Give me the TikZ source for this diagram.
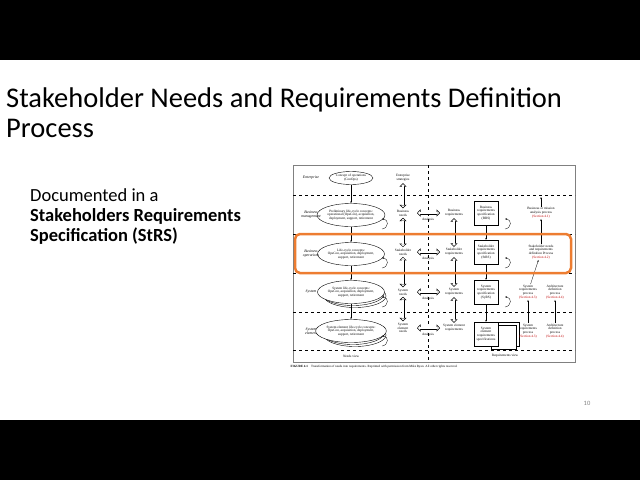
\documentclass[tikz,border=0pt]{standalone}
\usepackage{fontspec}
\setmainfont{Carlito}
\newfontfamily\figfont{Liberation Serif}
\usetikzlibrary{arrows.meta,shapes.geometric}
\definecolor{offorange}{RGB}{237,125,49}
\begin{document}
\begin{tikzpicture}[x=1pt,y=-1pt,
  tiny/.style={font=\figfont\fontsize{3.4}{3.8}\selectfont,align=center,inner sep=0.5pt},
  rowlab/.style={tiny,font=\figfont\itshape\fontsize{3.8}{4.2}\selectfont},
  ell/.style={draw,ellipse,minimum width=62pt,minimum height=23pt,inner sep=0pt,tiny,line width=0.4pt},
  spec/.style={draw,tiny,minimum width=24pt,minimum height=24pt,fill=white,line width=0.4pt},
  dbl/.style={line width=3pt,shorten <=1pt,shorten >=1pt,
    {Triangle[open,fill=white,line width=0.5pt,width=7pt,length=3.5pt]}-{Triangle[open,fill=white,line width=0.5pt,width=7pt,length=3.5pt]},
    postaction={draw,white,line width=2pt,-,shorten <=4pt,shorten >=4pt}},
  sarr/.style={-{Stealth[length=2pt]},line width=0.3pt},
  dashln/.style={dashed,line width=0.3pt}]
\useasboundingbox (0,0) rectangle (640,480);
\fill[black] (0,0) rectangle (640,60);
\fill[black] (0,420) rectangle (640,480);
\node[anchor=west,font=\fontsize{28.5}{30}\selectfont,align=left,inner sep=0] (title) at (6,113)
 {Stakeholder Needs and Requirements Definition\\Process};
\node[anchor=west,font=\fontsize{18.5}{20}\selectfont,align=left,inner sep=0] (doc) at (30,217)
 {Documented in a\\\textbf{Stakeholders Requirements}\\\textbf{Specification (StRS)}};
\node[font=\fontsize{6.5}{7}\selectfont,text=gray] (pg) at (587,403) {10};
% figure frame
\draw[line width=0.3pt,gray] (293,165) rectangle (575,362);
\foreach \yy in {195,234,273,312,350} \draw[dashln] (293,\yy) -- (575,\yy);
\draw[dashln] (428,165) -- (428,362);
\node[tiny] (nv) at (351,356) {Needs view};
\node[tiny] (rv) at (505,356) {Requirements view};
\node[tiny,anchor=west,font=\figfont\fontsize{3.2}{3.6}\selectfont] (cap) at (290,367)
 {\textbf{FIGURE 4.1}\quad Transformation of needs into requirements. Reprinted with permission from Mike Ryan. All other rights reserved.};
% row labels
\node[rowlab] (l1) at (311,178) {Enterprise};
\node[rowlab] (l2) at (311,215) {Business\\management};
\node[rowlab] (l3) at (311,254) {Business\\operations};
\node[rowlab] (l4) at (311,292) {System};
\node[rowlab] (l5) at (311,331) {System\\element};
% ellipses
\node[ell,minimum width=42pt,minimum height=13pt] (e1) at (351,178) {Concept of operations\\(ConOps)};
\node[ell] (e2) at (351,215) {Preliminary life-cycle concepts:\\operational (OpsCon), acquisition,\\deployment, support, retirement};
\node[ell] (e3) at (351,254) {Life-cycle concepts:\\OpsCon, acquisition, deployment,\\support, retirement};
\draw (355,296) ellipse (31pt and 11.5pt);\draw (353,294) ellipse (31pt and 11.5pt);
\node[ell,fill=white] (e4) at (351,292) {System life-cycle concepts:\\OpsCon, acquisition, deployment,\\support, retirement};
\draw (355,335) ellipse (31pt and 11.5pt);\draw (353,333) ellipse (31pt and 11.5pt);
\node[ell,fill=white] (e5) at (351,331) {System element life-cycle concepts:\\OpsCon, acquisition, deployment,\\support, retirement};
\draw[sarr] (e1) -- (e2); \draw[sarr] (e2) -- (e3); \draw[sarr] (e3) -- (e4); \draw[sarr] (e4) -- (e5);
% needs column
\node[tiny] (n1) at (403,178) {Enterprise\\strategies};
\node[tiny] (n2) at (403,213) {Business\\needs};
\node[tiny] (n3) at (403,252) {Stakeholder\\needs};
\node[tiny] (n4) at (403,292) {System\\needs};
\node[tiny] (n5) at (403,328) {System\\element\\needs};
\draw[dbl] (n1) -- (n2); \draw[dbl] (n2) -- (n3); \draw[dbl] (n3) -- (n4); \draw[dbl] (n4) -- (n5);
% requirements column
\node[tiny] (r2) at (454,213) {Business\\requirements};
\node[tiny] (r3) at (454,252) {Stakeholder\\requirements};
\node[tiny] (r4) at (454,292) {System\\requirements};
\node[tiny] (r5) at (454,328) {System element\\requirements};
\draw[dbl] (r2) -- (r3); \draw[dbl] (r3) -- (r4); \draw[dbl] (r4) -- (r5);
\foreach \i/\yy in {2/213,3/252,4/292,5/328}{
  \draw[dbl] (416,\yy) -- (441,\yy);
  \node[tiny] (an\i) at (428,\yy+7) {Analysis};}
% specs
\node[spec] (s2) at (486,213) {Business\\requirements\\specification\\(BRS)};
\node[spec] (s3) at (486,252) {Stakeholder\\requirements\\specification\\(StRS)};
\node[spec] (s4) at (486,292) {System\\requirements\\specification\\(SyRS)};
\draw[fill=white] (494,322) rectangle (519,346);\draw[fill=white] (491,325) rectangle (516,349);
\node[spec] (s5) at (486,334) {System\\element\\requirements\\specifications};
\draw[sarr] (s2) -- (s3); \draw[sarr] (s3) -- (s4); \draw[sarr] (s4) -- (s5);
% curved feedback arrows
\foreach \xx/\yy in {385/225,385/264,385/303,385/342,508/225,508/264,508/303}
  \draw[line width=0.3pt,-{Stealth[length=2pt]}] (\xx-3,\yy+4) .. controls (\xx+4,\yy+3) and (\xx+4,\yy-6) .. (\xx-3,\yy-6);
% right column
\node[tiny] (p1) at (541,213) {Business or mission\\analysis process\\\textcolor{red!75!black}{(Section 4.1)}};
\node[tiny] (p2) at (541,252) {Stakeholder needs\\and requirements\\definition Process\\\textcolor{red!75!black}{(Section 4.2)}};
\node[tiny] (p3) at (528,292) {System\\requirements\\process\\\textcolor{red!75!black}{(Section 4.3)}};
\node[tiny] (p4) at (555,292) {Architecture\\definition\\process\\\textcolor{red!75!black}{(Section 4.4)}};
\node[tiny] (p5) at (528,331) {System\\requirements\\process\\\textcolor{red!75!black}{(Section 4.3)}};
\node[tiny] (p6) at (555,331) {Architecture\\definition\\process\\\textcolor{red!75!black}{(Section 4.4)}};
\coordinate (top) at (541,197);
\draw[sarr] (p1) -- (top); \draw[sarr] (p2) -- (p1); \draw[sarr] (p3) -- (p2);
\draw[sarr] (p5) -- (p3); \draw[sarr] (p6) -- (p4);
% orange highlight
\draw[offorange,line width=2.5pt,rounded corners=5pt] (295,234) rectangle (571,273);
\end{tikzpicture}
\end{document}
